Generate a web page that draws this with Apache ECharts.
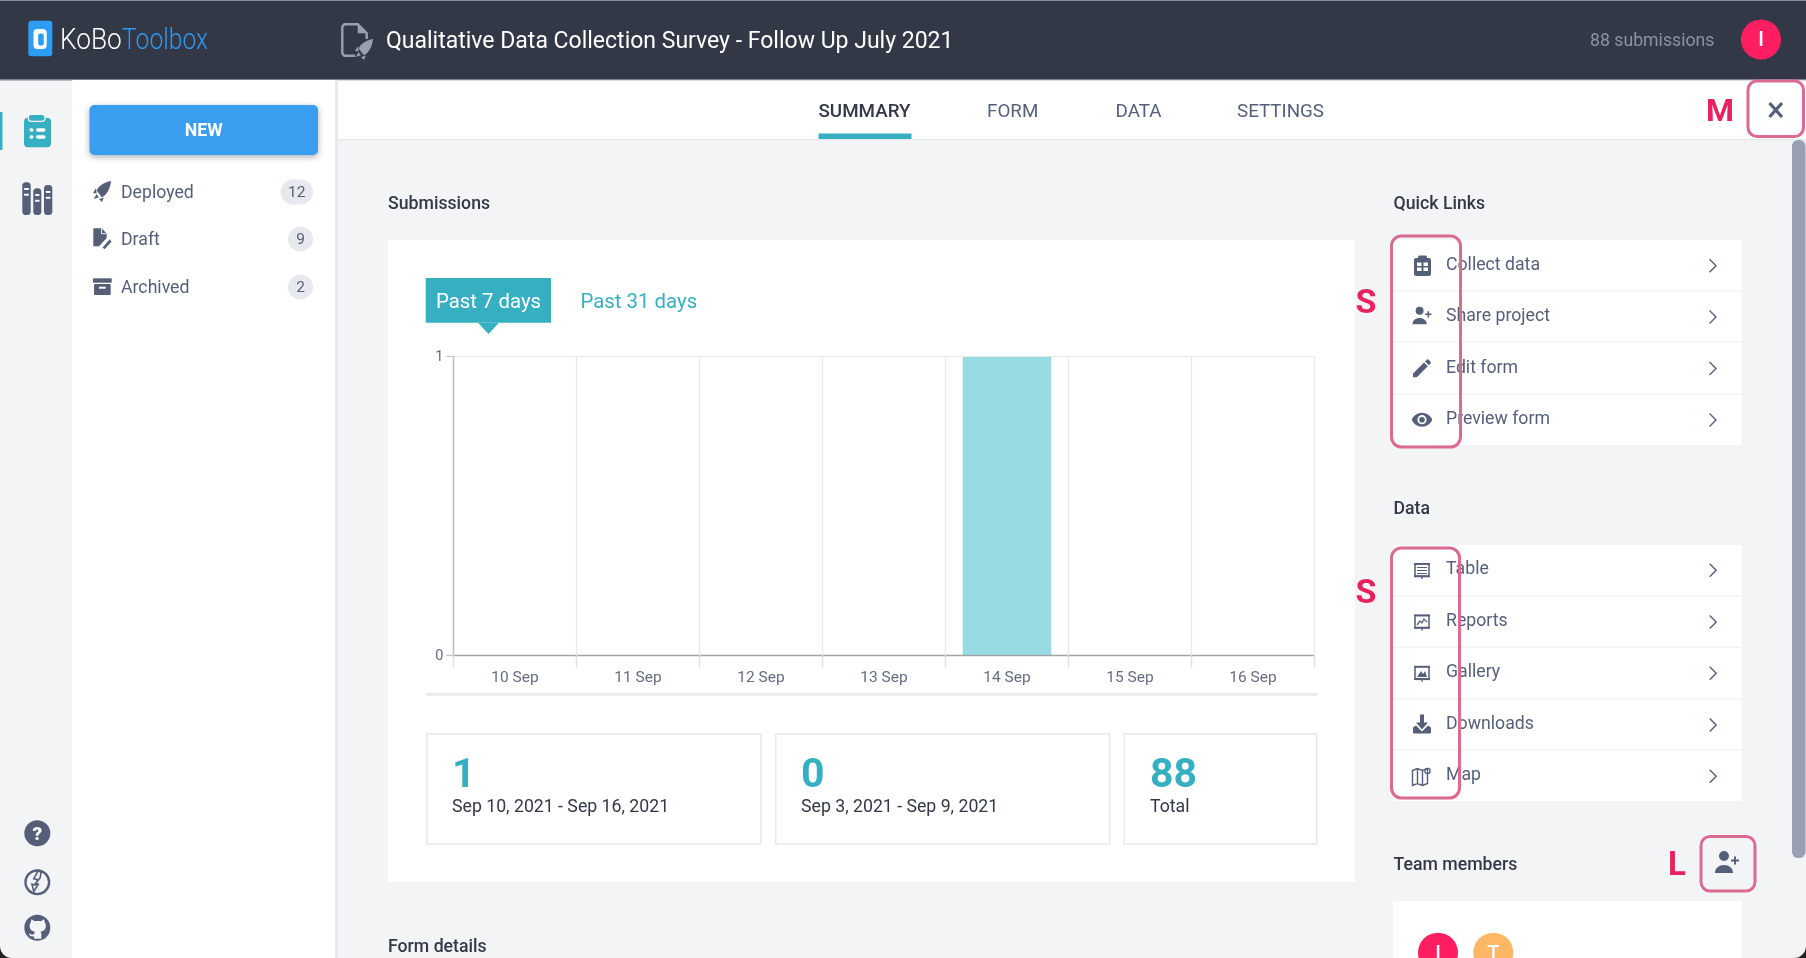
<!DOCTYPE html>
<html><head><meta charset="utf-8">
<style>html,body{margin:0;padding:0;background:#f3f4f6;overflow:hidden}#c{width:1806px;height:958px}</style>
<script src="https://cdn.jsdelivr.net/npm/echarts@6/dist/echarts.min.js"></script>
</head><body><div id="c"></div>
<script>
const categories = ['10 Sep','11 Sep','12 Sep','13 Sep','14 Sep','15 Sep','16 Sep'];
const submissions = [0,0,0,0,1,0,0];
const drawerItems = ['Deployed','Draft','Archived'];
const drawerCounts = ['12','9','2'];
const quickLinks = ['Collect data','Share project','Edit form','Preview form'];
const dataLinks = ['Table','Reports','Gallery','Downloads','Map'];
const tabs = ['SUMMARY','FORM','DATA','SETTINGS'];
const statValues = ['1','0','88'];
const statLabels = ['Sep 10, 2021 - Sep 16, 2021','Sep 3, 2021 - Sep 9, 2021','Total'];

const DARK='#333847', SLATE='#555f78', TEAL='#36b0c1', PINK='#e8215f', EDGE='#dc6b92', LINE='#e8e9ef', BG='#f3f4f6';
const FONT='Roboto, sans-serif';
const g=[];
const rect=(x,y,w,h,fill,r,extra)=>g.push({type:'rect',shape:{x,y,width:w,height:h,r:r||0},style:Object.assign({fill},extra||{})});
const box=(x,y,w,h,stroke,lw,r)=>g.push({type:'rect',shape:{x,y,width:w,height:h,r:r||0},style:{fill:'none',stroke,lineWidth:lw}});
const circ=(cx,cy,r,fill,extra)=>g.push({type:'circle',shape:{cx,cy,r},style:Object.assign({fill},extra||{})});
const poly=(points,fill)=>g.push({type:'polygon',shape:{points},style:{fill}});
const pline=(points,stroke,lineWidth)=>g.push({type:'polyline',shape:{points},style:{fill:'none',stroke,lineWidth}});
const txt=(x,y,text,size,weight,fill,align,sx)=>g.push({type:'text',x,y:y+size*0.09,scaleX:sx||1,style:{x:0,y:0,text,fill,font:`${weight} ${size}px ${FONT}`,textAlign:align||'left',textVerticalAlign:'middle'}});
let iconId=0;
const icon=(d,cx,cy,w,h,fill,extra)=>{
  const name='ic'+(iconId++);
  const Cls=echarts.graphic.extendPath(d,{});
  echarts.graphic.registerShape(name,Cls);
  const b=new Cls().getBoundingRect();
  const s=Math.min(w/b.width,h/b.height);
  const st=Object.assign({fill},extra||{});
  if(st.lineWidth) st.lineWidth=st.lineWidth/s;
  g.push({type:name,x:cx-(b.x+b.width/2)*s,y:cy-(b.y+b.height/2)*s,scaleX:s,scaleY:s,style:st});
};
const chevron=(cx,cy)=>pline([[cx-3,cy-6.5],[cx+3.5,cy],[cx-3,cy+6.5]],SLATE,1.4);
const personAdd='M9 0a5 5 0 1 1-.01 0z M0 22c0-5 4-8 9-8s9 3 9 8z M19 5.5h2v3h3v2h-3v3h-2v-3h-3v-2h3z';
const rocketPath='M80 18C58 22 40 33 32 50L50 73C70 60 78 40 80 18z M30 42L20 58L32 60z M56 74L50 88L40 78z M32 62L40 72L22 78z';

// page frame
rect(0,0,1806,958,BG);
rect(0,0,1806,1,'#8a8d96');
rect(0,1,1806,78,DARK);
rect(0,79,1806,1.4,'#7d8292');

// logo
rect(28.3,20.7,24,35.5,'#2d9cf5',3);
rect(33.5,29,13.2,20,'#fff',4);
rect(38.2,33.5,5.6,12,'#2d9cf5',2);
txt(60,39,'KoBo',30,300,'#ffffff','left',0.875);
txt(122,39,'Toolbox',30,300,'#2f98ee','left',0.823);

// title icon
const TI='#9aa0b3';
pline([[355,55.7],[344.3,55.7],[342.3,53.3],[342.3,26.7],[344.3,24.3],[357.7,24.3],[366.7,33.3],[366.7,39]],TI,2.4);
poly([[357.7,24.3],[357.7,33.3],[366.7,33.3]],TI);
icon(rocketPath,364,49.5,21,21,TI);
txt(386,40,'Qualitative Data Collection Survey - Follow Up July 2021',23,400,'#ffffff');
txt(1590,39.5,'88 submissions',17.7,400,'#8c92a6');
circ(1761,39.5,20,'#ff1e62');
txt(1761,39.5,'I',20,500,'#ffffff','center');

// left rail and drawer
rect(72,80,264,878,'#ffffff');
rect(335,80,3,878,LINE);
rect(0,112,2.5,38,TEAL);
// clipboard (rail)
rect(24,117.7,27,29.6,TEAL,4);
rect(28.3,114.3,16.7,7,TEAL,3,{stroke:BG,lineWidth:1.2});
[130,137].forEach(y=>{rect(29.5,y-1.7,4,3.5,'#fff',1.7);rect(36,y-1.7,9.5,3.5,'#fff',1.7);});
// library (rail)
const BOOK=[[22.3,182.3,8.4,[188,193.8]],[33.3,188.3,8,[194,199.8]],[44,185,8.3,[191,196.8]]];
BOOK.forEach(([x,y,w,bars])=>{
  rect(x,y,w,215-y,SLATE,3.5);
  bars.forEach(by=>rect(x+1.7,by,w-3.4,1.9,'#fff',.8));
});

// help, globe, github
circ(37.3,833.3,13,SLATE);
txt(37.3,833.3,'?',19,900,'#ffffff','center');
circ(37.3,882.3,11.8,'none',{stroke:SLATE,lineWidth:2.4});
icon('M13 0l-5 9 4 1-2 6-4-1 2 8 5-8-3-1 5-6 1-6z',36.5,881,13,21,'none',{stroke:SLATE,lineWidth:1.6});
circ(37.3,927.7,13,SLATE);
icon('M5 1l3 2h8l3-2 1 4c1 1 1 3 1 4 0 4-3 6-6 6 1 1 1 2 1 3v5H8v-3c-3 1-5 0-6-3 2 0 2 2 6 1 0-1 0-2 1-3-3 0-6-2-6-6 0-1 0-3 1-4z',37.3,929,17,20,'#f3f4f6');

// NEW button
rect(89.5,105,228.5,50,'#399ef0',5,{shadowBlur:6,shadowOffsetY:2,shadowColor:'rgba(60,70,100,0.45)'});
txt(203.7,130,'NEW',17.7,700,'#ffffff','center');

// drawer rows
const rowY=[192,239,287];
drawerItems.forEach((t,i)=>{
  txt(121,rowY[i],t,17.7,400,SLATE);
  const c=drawerCounts[i], w=c.length>1?32.5:25;
  rect(313-w,rowY[i]-12.5,w,25,LINE,12.5);
  txt(313-w/2,rowY[i],c,15.5,400,SLATE,'center');
});
icon(rocketPath,102,191.5,20,21,SLATE);
poly([[93.3,228.3],[101.5,228.3],[106.7,233.5],[106.7,238],[99,246.2],[93.3,246.2]],SLATE);
pline([[101.5,228.5],[101.5,233.7],[106.5,233.7]],'#fff',.9);
pline([[110.6,240.5],[103.6,248.4]],SLATE,2.8);
rect(93,278.3,18.7,4.4,SLATE);rect(94,284,16.7,11,SLATE,1);rect(99,286.7,6.7,2,'#fff');

// main header strip
rect(338,80.4,1468,59,'#ffffff');
rect(338,139,1468,1.4,LINE);
const tabX=[818.5,987,1115.5,1237];
tabs.forEach((t,i)=>txt(tabX[i],110.5,t,18.8,i===0?500:400,i===0?DARK:SLATE));
rect(818.5,133.5,93,5.6,TEAL);
txt(1706,110,'M',32,700,PINK);
pline([[1769.5,103],[1782,117]],SLATE,3.2);
pline([[1782,103],[1769.5,117]],SLATE,3.2);
box(1748,81,55.5,55.5,EDGE,3,9);

// scrollbar
rect(1792,140,13.5,718,'#9aa0b3',6);

// headings
txt(388,203,'Submissions',17.7,500,DARK);
txt(1393.5,203,'Quick Links',17.7,500,DARK);
txt(1393.5,507.7,'Data',17.7,500,DARK);
txt(1393.5,864,'Team members',17.7,500,DARK);
txt(388,945.7,'Form details',17.7,500,DARK);

// chart card
rect(388,240,967,642,'#ffffff');
rect(425.7,278,125.3,44.7,TEAL);
poly([[478,322.7],[499,322.7],[488.5,334]],TEAL);
txt(488.5,301,'Past 7 days',20.4,400,'#ffffff','center');
txt(580.5,301,'Past 31 days',20.4,400,TEAL);
rect(426,693,891.5,2.8,LINE);

// stat boxes
const statBox=[[426,335.5],[775,335.5],[1123.5,194]], statX=[452,801,1150];
statBox.forEach(([x,w],i)=>{
  box(x+.75,734,w-1.5,110,LINE,1.6);
  txt(statX[i],773.5,statValues[i],41,700,TEAL);
  txt(statX[i],806,statLabels[i],17.7,400,DARK);
});

// quick links card
rect(1393,240,348.7,205,'#ffffff');
[290.7,342,393.7].forEach(y=>rect(1393,y-.8,348.7,1.6,BG));
const qY=[264,315,367,418], qC=[265.7,317,368.5,420];
quickLinks.forEach((t,i)=>{txt(1446,qY[i],t,17.7,400,SLATE);chevron(1712.5,qC[i]);});
rect(1414,258,17,18,SLATE,2);rect(1418,255.5,9,5,SLATE,1.5);
[262.5,267.5].forEach(y=>{rect(1417,y,4.5,3.5,'#fff');rect(1423.5,y,4.5,3.5,'#fff');});
icon(personAdd,1422,315.5,19,18,SLATE);
icon('M3 17.25V21h3.75L17.81 9.94l-3.75-3.75L3 17.25z M20.71 7.04a1 1 0 0 0 0-1.41l-2.34-2.34a1 1 0 0 0-1.41 0l-1.83 1.83 3.75 3.75 1.83-1.83z',1422,368.3,18,18,SLATE);
icon('M12 4.5C7 4.5 2.73 7.61 1 12c1.73 4.39 6 7.5 11 7.5s9.27-3.11 11-7.5c-1.73-4.39-6-7.5-11-7.5z',1422,419.7,21,14,SLATE);
circ(1422,419.7,4.6,'#ffffff');circ(1422,419.7,2.8,SLATE);

// data links card
rect(1393,545,348.7,256,'#ffffff');
[595.7,647.3,698.7,750].forEach(y=>rect(1393,y-.8,348.7,1.6,BG));
const dY=[568.3,620,671.3,722.7,774.3], dC=[570.3,622,673.3,725,776.3];
dataLinks.forEach((t,i)=>{txt(1446,dY[i],t,17.7,400,SLATE);chevron(1712.7,dC[i]);});
const frame=(cy)=>{box(1415,cy-6.5,14,12,SLATE,1.5);rect(1414,cy-7.5,16,1.8,SLATE);rect(1414,cy+5,16,1.8,SLATE);rect(1421.3,cy+6,1.4,2.5,SLATE);};
frame(570.5);
[-3,0,3].forEach(d=>{rect(1417,570.5+d-.5,10,1,SLATE);});
frame(622);
pline([[1417,625],[1420,621],[1422,623],[1424,619],[1427,622]],SLATE,1.3);
frame(673.3);
poly([[1417,677],[1421,671],[1423,674],[1425,671],[1427,677]],SLATE);
icon('M7 0h4v8h4l-6 7-6-7h4z M0 13l3-2 6 6 6-6 3 2v5a1 1 0 0 1-1 1H1a1 1 0 0 1-1-1z',1422,724,18,19,SLATE);
icon('M1 6l5-2 5 2 5-2v15l-5 2-5-2-5 2z M6 4v15 M11 6v15',1420,777,15,17,'none',{stroke:SLATE,lineWidth:1.4});
circ(1427.5,771,2.6,'none',{stroke:SLATE,lineWidth:1.3});

// team members
icon(personAdd,1727,862,24,22,SLATE);
rect(1393,901,348.7,60,'#ffffff');
circ(1438,952.7,20,'#ff1e62');
circ(1493.3,952.7,20,'#fdb765');
txt(1438,953,'I',20,500,'#ffffff','center');
txt(1493.3,953,'T',20,500,'#ffffff','center');

// annotation outlines and letters
box(1391.5,236,69,211,EDGE,3,10);
box(1391.5,548,68,250,EDGE,3,10);
box(1701,836.5,54,54.5,EDGE,3,9);
txt(1355.5,301.5,'S',34,700,PINK);
txt(1355.5,591.5,'S',34,700,PINK);
txt(1668,864,'L',33,700,PINK);

// window corners
icon('M0 0A12 12 0 0 0 12 12L0 12Z',6,952,12,12,'#222');
icon('M12 0A12 12 0 0 1 0 12L12 12Z',1800,952,12,12,'#222');

const chart=echarts.init(document.getElementById('c'));
chart.setOption({
  animation:false,
  textStyle:{fontFamily:FONT},
  graphic:{elements:g.map(e=>Object.assign({silent:true,z:1},e))},
  grid:{left:453.5,top:356.5,width:861,height:298.5,containLabel:false},
  xAxis:{type:'category',data:categories,z:5,
    axisLine:{lineStyle:{color:'#a2a3a8',width:1.4}},
    axisTick:{show:true,length:12.5,lineStyle:{color:'#dfe0e5',width:1.4}},
    splitLine:{show:true,lineStyle:{color:'#e6e7eb',width:1.2}},
    axisLabel:{color:'#666c80',fontSize:15.5,margin:15.5,fontFamily:FONT}},
  yAxis:{type:'value',min:0,max:1,interval:1,z:5,
    axisLine:{show:true,lineStyle:{color:'#bdbec3',width:1.4}},
    axisTick:{show:true,length:7,lineStyle:{color:'#bdbec3',width:1.2}},
    splitLine:{show:true,lineStyle:{color:'#e6e7eb',width:1.2}},
    axisLabel:{color:'#666c80',fontSize:14.5,margin:10,lineHeight:14,verticalAlign:'top',padding:[-6,0,0,0],fontFamily:FONT}},
  series:[{type:'bar',data:submissions,barWidth:'72%',z:3,silent:true,itemStyle:{color:'#96dbe2'}}]
});
</script></body></html>
